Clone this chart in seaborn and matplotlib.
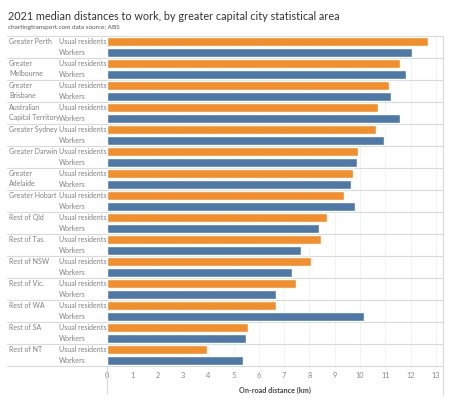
import pandas as pd
import matplotlib.pyplot as plt
import seaborn as sns
from matplotlib.lines import Line2D

# Dados (km)
regioes = ['Greater Perth', 'Greater Melbourne', 'Greater Brisbane',
           'Australian Capital Territory', 'Greater Sydney', 'Greater Darwin',
           'Greater Adelaide', 'Greater Hobart', 'Rest of Qld', 'Rest of Tas.',
           'Rest of NSW', 'Rest of Vic.', 'Rest of WA', 'Rest of SA', 'Rest of NT']
rotulos = ['Greater Perth', 'Greater\nMelbourne', 'Greater\nBrisbane',
           'Australian\nCapital Territory', 'Greater Sydney', 'Greater Darwin',
           'Greater\nAdelaide', 'Greater Hobart', 'Rest of Qld', 'Rest of Tas.',
           'Rest of NSW', 'Rest of Vic.', 'Rest of WA', 'Rest of SA', 'Rest of NT']
tipos = ['Usual residents', 'Workers']
residentes = [12.67, 11.58, 11.13, 10.71, 10.62, 9.92, 9.72, 9.35, 8.68, 8.46,
              8.06, 7.48, 6.66, 5.57, 3.95]
trabalhadores = [12.04, 11.82, 11.22, 11.58, 10.96, 9.88, 9.64, 9.80, 8.38, 7.67,
                 7.31, 6.68, 10.14, 5.49, 5.38]

df = pd.DataFrame({
    'Regiao': regioes * 2,
    'Tipo': [tipos[0]] * len(regioes) + [tipos[1]] * len(regioes),
    'Distancia': residentes + trabalhadores,
})

sns.set_theme(style="white")
plt.rcParams['font.family'] = ['Lato', 'DejaVu Sans']

fig = plt.figure(figsize=(4.5, 4), dpi=100)
ax = fig.add_axes([107 / 450, 1 - 366 / 400, 336 / 450, 330 / 400])

cores = {'Usual residents': '#F28E2B', 'Workers': '#4E79A7'}
sns.barplot(data=df, y='Regiao', x='Distancia', hue='Tipo', order=regioes,
            hue_order=tipos, palette=cores, saturation=1, orient='h', width=1.0,
            gap=0.27, legend=False, ax=ax, zorder=3)

ax.set_xlim(0, 13.28)
ax.set_ylim(len(regioes) - 0.5, -0.5)
ax.set_xticks(range(0, 14))
ax.tick_params(axis='x', length=0, labelsize=5.3, labelcolor='#888888', pad=4)
ax.set_yticks([])
ax.set_ylabel('')
ax.set_xlabel('On-road distance (km)', fontsize=5.2, fontweight='bold', color='#444444', labelpad=6)
for s in ax.spines.values():
    s.set_visible(False)

# grade vertical
for v in range(1, 14):
    ax.axvline(v, color='#f0f0f0', lw=0.6, zorder=1)

# separadores de grupo e rótulos
trans = ax.get_yaxis_transform()
for i in range(len(regioes) + 1):
    ax.plot([-0.298, 1], [i - 0.5, i - 0.5], transform=trans, color='#d9d9d9',
            lw=0.8, clip_on=False, zorder=2)
for i, rot in enumerate(rotulos):
    linhas = rot.split('\n')
    for j, lin in enumerate(linhas):
        ax.text(-0.292, i - 0.25 + j * 0.46, lin, transform=trans, fontsize=5.0,
                color='#808080', va='center', ha='left')
    ax.text(-0.143, i - 0.25, tipos[0], transform=trans, fontsize=5.0,
            color='#808080', va='center', ha='left')
    ax.text(-0.143, i + 0.25, tipos[1], transform=trans, fontsize=5.0,
            color='#808080', va='center', ha='left')

# linhas de borda
fig.add_artist(Line2D([107 / 450, 107 / 450], [1 - 366 / 400, 1 - 393 / 400],
                      color='#d9d9d9', lw=0.8))
fig.add_artist(Line2D([443 / 450, 443 / 450], [1 - 36 / 400, 1 - 395 / 400],
                      color='#d9d9d9', lw=0.8))

fig.text(8 / 450, 1 - 16.5 / 400, '2021 median distances to work, by greater capital city statistical area',
         fontsize=7.8, color='#333333', va='center', ha='left')
fig.text(8 / 450, 1 - 27.5 / 400, 'chartingtransport.com data source: ABS',
         fontsize=4.6, color='#555555', va='center', ha='left')

fig.savefig('out.png', dpi=100)
